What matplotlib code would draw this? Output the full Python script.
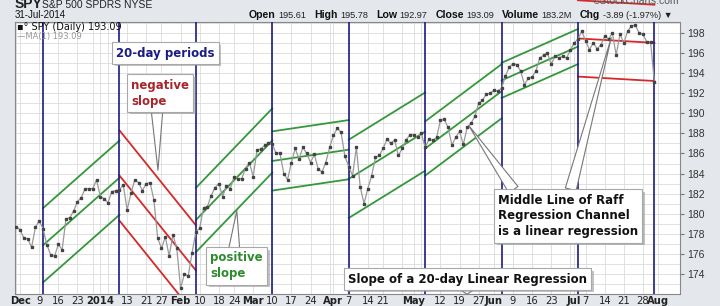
import numpy as np
import pandas as pd
import matplotlib
matplotlib.use("Agg")
import matplotlib.pyplot as plt
import matplotlib.patheffects as pe
from matplotlib.patches import FancyArrowPatch
from matplotlib.transforms import Bbox, TransformedBbox

# SPY daily closes as plotted (dividend adjusted), 29-Nov-2013 .. 31-Jul-2014
closes = [
    178.7, 178.4, 177.55, 177.5, 176.65, 178.65, 179.3, 178.5, 176.9, 175.9,
    175.75, 176.95, 176.4, 179.5, 179.6, 180.27, 181.2, 181.6, 182.5, 182.5,
    182.5, 183.36, 181.7, 181.5, 181.1, 182.2, 182.3, 182.4, 182.86, 180.37,
    182.03, 183.36, 183.1, 182.3, 183.0, 183.1, 181.4, 177.55, 176.55, 177.7,
    175.8, 177.9, 176.55, 172.57, 174.0, 173.8, 176.1, 178.2, 178.55, 180.6,
    180.7, 181.8, 182.6, 183.0, 181.7, 182.8, 182.5, 183.7, 183.5, 183.5,
    184.5, 185.1, 183.7, 186.35, 186.45, 186.8, 187.0, 186.9, 186.0, 186.05,
    184.0, 183.4, 185.1, 186.5, 185.45, 186.6, 186.0, 185.1, 185.9, 184.5,
    184.15, 185.1, 186.6, 187.8, 188.5, 188.1, 185.7, 184.7, 183.8, 186.6,
    182.7, 181.0, 182.5, 183.8, 185.6, 185.8, 186.5, 187.4, 187.0, 187.35,
    185.8, 186.5, 187.35, 187.85, 187.85, 187.6, 188.0, 186.6, 187.4, 187.3,
    187.6, 189.3, 189.4, 188.6, 186.85, 187.6, 188.2, 186.9, 188.6, 189.0,
    189.7, 191.0, 191.3, 191.9, 192.0, 192.3, 192.2, 192.5, 193.7, 194.6,
    194.95, 194.85, 194.2, 192.85, 193.5, 193.6, 194.25, 195.5, 195.8, 196.0,
    194.9, 195.7, 195.5, 195.7, 195.5, 196.3, 197.0, 197.4, 198.2, 197.2,
    196.35, 197.0, 196.45, 196.8, 197.7, 197.4, 198.0, 195.8, 197.9, 197.0,
    198.2, 198.7, 198.8, 198.0, 197.9, 197.1, 197.1, 193.09,
]

holidays = ["2013-12-25", "2014-01-01", "2014-01-20", "2014-02-17",
            "2014-04-18", "2014-05-26", "2014-07-04"]

tick_dates = ["2013-12-02", "2013-12-09", "2013-12-16", "2013-12-23",
              "2014-01-02", "2014-01-13", "2014-01-21", "2014-01-27",
              "2014-02-03", "2014-02-10", "2014-02-18", "2014-02-24",
              "2014-03-03", "2014-03-10", "2014-03-17", "2014-03-24",
              "2014-04-01", "2014-04-07", "2014-04-14", "2014-04-21",
              "2014-05-01", "2014-05-12", "2014-05-19", "2014-05-27",
              "2014-06-02", "2014-06-09", "2014-06-16", "2014-06-23",
              "2014-07-01", "2014-07-07", "2014-07-14", "2014-07-21",
              "2014-07-28", "2014-08-01"]
tick_labels = ["Dec", "9", "16", "23", "2014", "13", "21", "27",
               "Feb", "10", "18", "24", "Mar", "10", "17", "24",
               "Apr", "7", "14", "21", "May", "12", "19", "27",
               "Jun", "9", "16", "23", "Jul", "7", "14", "21", "28", "Aug"]
bold_labels = ["Dec", "2014", "Feb", "Mar", "Apr", "May", "Jun", "Jul", "Aug"]

price_ticks = list(range(174, 199, 2))

period_start = "2013-12-10"
period_len = 20
# half-width of each Raff channel
channel_width = [3.7, 4.5, 3.2, 2.95, 3.9, 2.7, 1.75, 3.8]

header = [("Open", "195.61"), ("High", "195.78"), ("Low", "192.97"),
          ("Close", "193.09"), ("Volume", "183.2M"), ("Chg", "-3.89 (-1.97%) \u25bc")]

GREEN = "#34983b"
RED = "#d62a2a"
NAVY = "#1b1b85"

# trading calendar
days = pd.bdate_range("2013-11-29", "2014-07-31")
days = days[~days.isin(pd.to_datetime(holidays))]
x = np.arange(len(closes))
tick_pos = np.searchsorted(days, pd.to_datetime(tick_dates))
week_id = days.isocalendar().week.values
week_pos = [i for i in range(len(days)) if i == 0 or week_id[i] != week_id[i - 1]]
start = days.get_loc(pd.Timestamp(period_start))
breaks = list(range(start, len(closes), period_len))

W, H = 720, 306
fig = plt.figure(figsize=(W / 100, H / 100), dpi=100, facecolor="#e4e7ec")
ax = fig.add_axes([15 / W, 1 - 294 / H, 665 / W, (294 - 21.7) / H])
ax.set_facecolor("white")
ax.set_xlim(-0.34, 173.7)
ax.set_ylim(172.0, 199.13)

# grid
ax.set_yticks(price_ticks)
ax.set_yticks(np.arange(172, 200, 1), minor=True)
ax.set_xticks(tick_pos)
ax.set_xticks(week_pos, minor=True)
ax.grid(True, which="both", color="#dcdcdc", lw=0.6, zorder=0)
ax.set_axisbelow(True)
ax.yaxis.tick_right()
ax.tick_params(axis="y", which="major", length=3, color="#777", labelsize=7.5,
               labelcolor="#333", pad=2)
ax.tick_params(axis="y", which="minor", length=0)
ax.tick_params(axis="x", which="both", length=0, pad=1.5)
ax.set_xticklabels(tick_labels, fontsize=7.2, color="#222")
for lab in ax.get_xticklabels():
    if lab.get_text() in bold_labels:
        lab.set_fontweight("bold")
for lab in ax.get_yticklabels():
    lab.set_family("Liberation Sans")
for s in ax.spines.values():
    s.set_color("#888")
    s.set_linewidth(0.8)
ax.spines["right"].set_linestyle((0, (1, 1)))

# Raff regression channels, clipped at the plot bottom but free above it
clip = TransformedBbox(Bbox([[0, 1 - 294 / H], [680 / W, 1.0]]), fig.transFigure)
for i, b in enumerate(breaks[:-1]):
    seg = x[b:b + period_len + 1]
    slope, icpt = np.polyfit(seg, np.array(closes)[seg], 1)
    col = GREEN if slope > 0 else RED
    mid = slope * seg + icpt
    for off in (channel_width[i], 0, -channel_width[i]):
        ln, = ax.plot(seg, mid + off, color=col, lw=1.3, zorder=2)
        ln.set_clip_box(clip)

for b in breaks:
    ax.axvline(b, color=NAVY, lw=1.2, zorder=3)

ax.plot(x, closes, color="#9a9a9a", lw=0.9, marker="s", ms=1.6,
        mfc="#444", mec="#444", zorder=4)

# header
fig.text(15 / W, 1 - 8 / H, "SPY", fontsize=10, fontweight="bold", color="#222",
         family="Liberation Sans")
fig.text(42 / W, 1 - 8 / H, "S&P 500 SPDRS NYSE", fontsize=7.5, color="#222",
         family="Liberation Sans")
fig.text(15 / W, 1 - 17.5 / H, "31-Jul-2014", fontsize=7, color="#111",
         family="Liberation Sans")
fig.text(593 / W, 1 - 4.5 / H, "\u00a9StockCharts.com", fontsize=7.5, color="#555",
         family="Liberation Sans")
prev = None
for name, val in header:
    if prev is None:
        t = fig.text(249 / W, 1 - 18 / H, name, fontsize=7.6, fontweight="bold",
                     color="#111", family="Liberation Sans")
    else:
        t = ax.annotate(name, xy=(1, 0), xycoords=prev, xytext=(5.5, 0),
                        textcoords="offset points", fontsize=7.6, fontweight="bold",
                        color="#111", family="Liberation Sans", va="bottom",
                        annotation_clip=False)
    prev = ax.annotate(val, xy=(1, 0), xycoords=t, xytext=(2, 0),
                       textcoords="offset points", fontsize=6.6, color="#222",
                       family="Liberation Sans", va="bottom", annotation_clip=False)

# legend
fig.text(17 / W, 1 - 30 / H, "\u25aa\u00b0 SPY (Daily) 193.09", fontsize=7,
         color="#111")
fig.text(17 / W, 1 - 39 / H, "\u2014MA(1) 193.09", fontsize=6, color="#999")


def callout(txt, px, py, color):
    t = fig.text(px / W, 1 - py / H, txt, color=color, fontsize=8.5,
                 fontweight="bold", va="center", ha="left", linespacing=1.3,
                 zorder=10,
                 bbox=dict(boxstyle="square,pad=0.35", fc="white", ec="#a8a8a8",
                           lw=0.8))
    t.get_bbox_patch().set_path_effects(
        [pe.withSimplePatchShadow(offset=(2, -2), shadow_rgbFace="#888", alpha=0.5)])
    return t


def pointer(p0, p1, width=0.8):
    a = FancyArrowPatch((p0[0] / W, 1 - p0[1] / H), (p1[0] / W, 1 - p1[1] / H),
                        transform=fig.transFigure,
                        arrowstyle="wedge,tail_width=%g" % width,
                        mutation_scale=10, fc="white", ec="#777", lw=0.8,
                        zorder=6)
    fig.add_artist(a)


pointer((157, 110), (158, 173))
pointer((234, 252), (237, 208))
pointer((515, 192), (467, 123))
pointer((570, 192), (612, 35))
pointer((467, 286), (467, 297), width=1.2)

callout("20-day periods", 116, 53, NAVY)
callout("negative\nslope", 131, 93, "#a8262b")
callout("positive\nslope", 210, 266, "#2e8b2e")
callout("Middle Line of Raff\nRegression Channel\nis a linear regression",
        498, 216, "#111")
callout("Slope of a 20-day Linear Regression", 348, 279, "#111")

fig.savefig("out.png", dpi=100, facecolor=fig.get_facecolor())
